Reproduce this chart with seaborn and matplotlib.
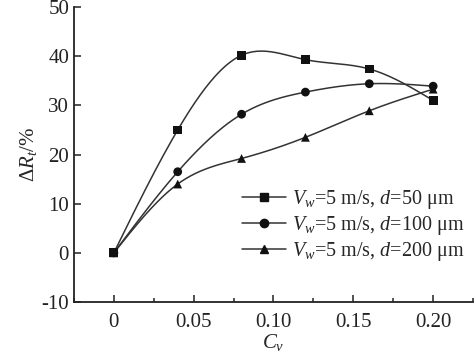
import numpy as np
import pandas as pd
import seaborn as sns
import matplotlib
matplotlib.use("Agg")
import matplotlib.pyplot as plt
from matplotlib.ticker import MultipleLocator

cv = [0, 0.04, 0.08, 0.12, 0.16, 0.20]
d50 = [0, 25.0, 40.2, 39.3, 37.4, 31.0]
d100 = [0, 16.5, 28.2, 32.7, 34.4, 33.9]
d200 = [0, 14.0, 19.2, 23.5, 28.9, 33.3]
labels = ["$V_w$=5 m/s, $d$=50 μm", "$V_w$=5 m/s, $d$=100 μm", "$V_w$=5 m/s, $d$=200 μm"]
markers = ["s", "o", "^"]


def spline(x, y, n=200):
    # natural cubic spline, just for the smooth connecting line
    x = np.asarray(x, float); y = np.asarray(y, float)
    k = len(x); h = np.diff(x)
    A = np.zeros((k, k)); b = np.zeros(k)
    A[0, 0] = A[-1, -1] = 1
    for i in range(1, k - 1):
        A[i, i - 1] = h[i - 1]; A[i, i] = 2 * (h[i - 1] + h[i]); A[i, i + 1] = h[i]
        b[i] = 6 * ((y[i + 1] - y[i]) / h[i] - (y[i] - y[i - 1]) / h[i - 1])
    M = np.linalg.solve(A, b)
    xs = np.linspace(x[0], x[-1], n)
    j = np.clip(np.searchsorted(x, xs) - 1, 0, k - 2)
    t0 = x[j + 1] - xs; t1 = xs - x[j]
    ys = (M[j] * t0**3 + M[j + 1] * t1**3) / (6 * h[j]) \
        + (y[j] / h[j] - M[j] * h[j] / 6) * t0 + (y[j + 1] / h[j] - M[j + 1] * h[j] / 6) * t1
    return xs, ys


sns.set_style("ticks")
plt.rcParams["font.family"] = ["Liberation Serif", "DejaVu Serif"]
plt.rcParams["mathtext.fontset"] = "custom"
plt.rcParams["mathtext.it"] = "Liberation Serif:italic"
plt.rcParams["mathtext.rm"] = "Liberation Serif"
plt.rcParams["axes.unicode_minus"] = False

fig = plt.figure(figsize=(4.74, 3.52), dpi=100)
ax = fig.add_axes([0.156, 0.142, 0.842, 0.838])

for ys, lab, m in zip([d50, d100, d200], labels, markers):
    sx, sy = spline(cv, ys)
    sns.lineplot(x=sx, y=sy, ax=ax, color="#333333", lw=1.1, sort=False)
    sns.scatterplot(x=cv, y=ys, ax=ax, marker=m, color="#111111", s=40, edgecolor="none", zorder=3)
    ax.plot([], [], color="#333333", lw=1.1, marker=m, markersize=6, mfc="#111111", mec="#111111", label=lab)

ax.set_xlim(-0.025, 0.225)
ax.set_ylim(-10, 50)
ax.set_xticks([0, 0.05, 0.10, 0.15, 0.20])
ax.set_xticklabels(["0", "0.05", "0.10", "0.15", "0.20"])
ax.xaxis.set_minor_locator(MultipleLocator(0.025))
ax.yaxis.set_major_locator(MultipleLocator(10))
ax.tick_params(direction="in", labelsize=15, length=5, width=1.1, colors="#222222")
ax.tick_params(which="minor", direction="in", length=3, width=1.1)
ax.tick_params(axis="x", pad=8)
sns.despine(ax=ax)
for s in ["left", "bottom"]:
    ax.spines[s].set_linewidth(1.3)
    ax.spines[s].set_color("#222222")

ax.set_xlabel("$C_v$", fontsize=15, labelpad=0)
ax.set_ylabel(r"$\Delta R_t$/%", fontsize=15, labelpad=2)

ax.legend(loc="lower right", bbox_to_anchor=(1.0, 0.105), frameon=False, fontsize=14.5,
          handlelength=2.2, handletextpad=0.3, labelspacing=0.15, borderaxespad=0)

fig.savefig("out.png", dpi=100)
